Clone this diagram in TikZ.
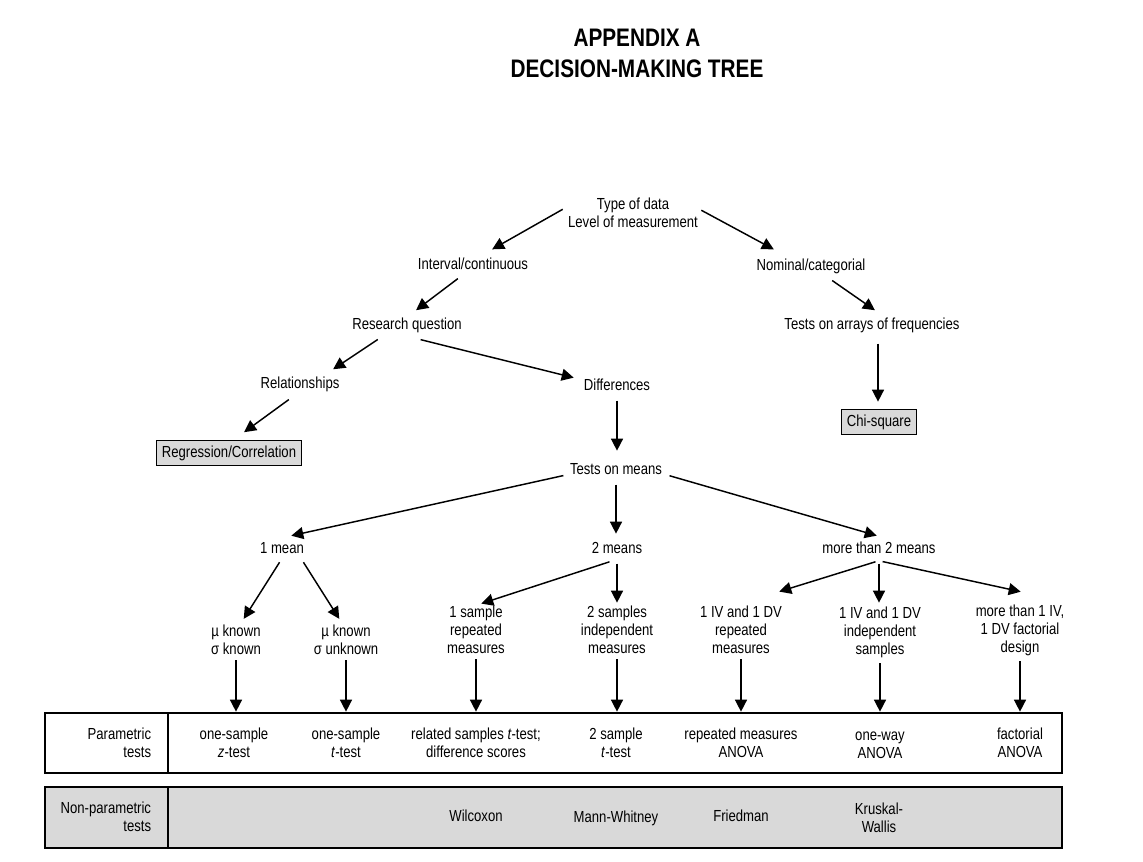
\documentclass[tikz,border=0pt]{standalone}
\usepackage{fontspec}
\setmainfont{Liberation Sans}[FakeStretch=0.82]
\usetikzlibrary{arrows.meta}
\begin{document}
\begin{tikzpicture}[x=0.75pt,y=-0.75pt,
  t/.style={font=\fontsize{12}{13.5}\selectfont,align=center,inner sep=2pt},
  bx/.style={t,draw,fill=gray!30,line width=0.8pt,inner sep=4pt},
  ar/.style={-{Triangle[length=9pt,width=9pt]},line width=1.1pt,shorten <=2pt,shorten >=1pt}]
\useasboundingbox (0,0) rectangle (1143,862);
\node[font=\bfseries\fontsize{19}{22}\selectfont] (ttl1) at (637,38) {APPENDIX A};
\node[font=\bfseries\fontsize{19}{22}\selectfont] (ttl2) at (637,69) {DECISION-MAKING TREE};
\node[t] (type) at (633,213) {Type of data\\Level of measurement};
\node[t] (int) at (473,264) {Interval/continuous};
\node[t] (nom) at (811,266) {Nominal/categorial};
\node[t] (rq) at (407,325) {Research question};
\node[t] (arr) at (872,325) {Tests on arrays of frequencies};
\node[t] (rel) at (300,384) {Relationships};
\node[t] (dif) at (617,385) {Differences};
\node[bx] (chi) at (879,422) {Chi-square};
\node[bx] (reg) at (229,453) {Regression/Correlation};
\node[t] (tm) at (616,469) {Tests on means};
\node[t] (m1) at (282,548) {1 mean};
\node[t] (m2) at (617,548) {2 means};
\node[t] (m3) at (879,548) {more than 2 means};
\node[t] (c1) at (236,640) {µ known\\σ known};
\node[t] (c2) at (346,640) {µ known\\σ unknown};
\node[t] (c3) at (476,630) {1 sample\\repeated\\measures};
\node[t] (c4) at (617,630) {2 samples\\independent\\measures};
\node[t] (c5) at (741,630) {1 IV and 1 DV\\repeated\\measures};
\node[t] (c6) at (880,632) {1 IV and 1 DV\\independent\\samples};
\node[t] (c7) at (1020,630) {more than 1 IV,\\1 DV factorial\\design};
% tables
\draw[line width=0.8pt] (45,713) rectangle (1062,773);
\draw[line width=0.8pt] (168,713) -- (168,773);
\draw[line width=0.8pt,fill=gray!30] (45,787) rectangle (1062,848);
\draw[line width=0.8pt] (168,787) -- (168,848);
\node[t,align=right,anchor=east] (pl) at (154,743) {Parametric\\tests};
\node[t,align=right,anchor=east] (nl) at (154,817) {Non-parametric\\tests};
\node[t] (p1) at (234,743) {one-sample\\\textit{z}-test};
\node[t] (p2) at (346,743) {one-sample\\\textit{t}-test};
\node[t] (p3) at (476,743) {related samples \textit{t}-test;\\difference scores};
\node[t] (p4) at (616,743) {2 sample\\\textit{t}-test};
\node[t] (p5) at (741,743) {repeated measures\\ANOVA};
\node[t] (p6) at (880,745) {one-way\\ANOVA};
\node[t] (p7) at (1020,743) {factorial\\ANOVA};
\node[t] (n3) at (476,816) {Wilcoxon};
\node[t] (n4) at (616,818) {Mann-Whitney};
\node[t] (n5) at (741,816) {Friedman};
\node[t] (n6) at (879,818) {Kruskal-\\Wallis};
\foreach \i/\x in {1/236,2/346,3/476,4/617,5/741,6/880,7/1020}
  \coordinate (k\i) at (\x,713);
% arrows
\draw[ar] (565,208) -- (491,250);
\draw[ar] (699,209) -- (775,250);
\draw[ar] (460,277) -- (415,311);
\draw[ar] (830,279) -- (876,311);
\draw[ar] (380,338) -- (332,370);
\draw[ar] (418,339) -- (575,378);
\draw[ar] (878,341) -- (878,403);
\draw[ar] (291,398) -- (243,433);
\draw[ar] (617,398) -- (617,452);
\draw[ar] (566,475) -- (290,536);
\draw[ar] (616,482) -- (616,535);
\draw[ar] (667,475) -- (878,536);
\draw[ar] (281,560) -- (243,620);
\draw[ar] (302,560) -- (340,620);
\draw[ar] (612,561) -- (480,604);
\draw[ar] (617,561) -- (617,604);
\draw[ar] (878,561) -- (778,592);
\draw[ar] (879,561) -- (879,604);
\draw[ar] (880,561) -- (1022,592);
\draw[ar] (c1) -- (k1);
\draw[ar] (c2) -- (k2);
\draw[ar] (c3) -- (k3);
\draw[ar] (c4) -- (k4);
\draw[ar] (c5) -- (k5);
\draw[ar] (c6) -- (k6);
\draw[ar] (c7) -- (k7);
\end{tikzpicture}
\end{document}
